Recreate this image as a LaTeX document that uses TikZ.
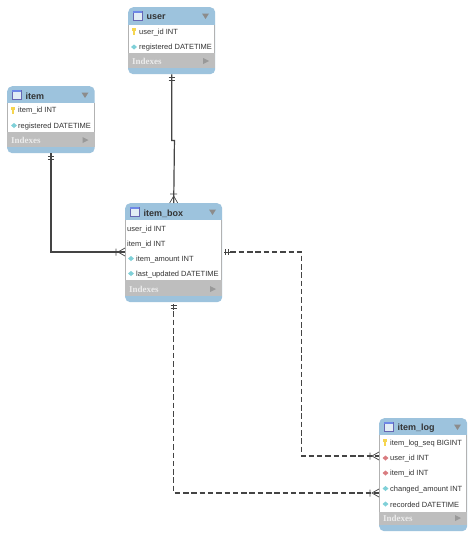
\documentclass[tikz,border=0pt]{standalone}
\usepackage{fontspec}
\setmainfont{Liberation Sans}
\newfontfamily\idxfont{Liberation Serif}
\usetikzlibrary{calc}
\definecolor{hdr}{HTML}{9DC3DD}
\definecolor{grayrow}{HTML}{BEBEBE}
\definecolor{frameblue}{HTML}{9DC3DD}
\definecolor{linec}{HTML}{444444}
\definecolor{keyy}{HTML}{F5D550}
\definecolor{dia}{HTML}{7FD0D8}
\definecolor{fk}{HTML}{D97C80}
\tikzset{
  x=1pt,y=-1pt,
  tbl/.style={draw=none,fill=frameblue,rounded corners=5pt,minimum width=#1,inner sep=0pt,anchor=north west},
  row/.style={anchor=west,inner sep=0pt,font=\fontsize{7.5}{9}\selectfont,text=black!80},
  title/.style={anchor=west,inner sep=0pt,font=\fontsize{9}{11}\selectfont\bfseries,text=black!80},
  idx/.style={anchor=west,inner sep=0pt,font=\fontsize{9}{11}\idxfont\bfseries,text=white!92!black},
  rel/.style={draw=linec,line width=1.2pt},
  reld/.style={rel,dash pattern=on 5.5pt off 2.8pt},
  mk/.style={draw=linec,line width=0.7pt},
}
\newcommand{\tbox}[8]{% name, x, y, w, h, hdr h, white h, title
  \node[tbl=#4,minimum height=#5] (#1) at (#2,#3) {};
  \fill[white] (#2,#3+#6) rectangle (#2+#4,#3+#6+#7);
  \fill[black!30] (#2,#3+#6) rectangle (#2+1,#3+#6+#7);
  \fill[black!30] (#2+#4-1,#3+#6) rectangle (#2+#4,#3+#6+#7);
  \fill[grayrow] (#2,#3+#6+#7) rectangle (#2+#4,#5+#3-6);
  \fill[white!70!hdr,draw=blue!50!black!60,line width=.6pt] (#2+5,#3+4) rectangle (#2+14,#3+13);
  \fill[hdr!70!blue] (#2+5,#3+4) rectangle (#2+14,#3+5.5);
  \node[title] (#1-t) at (#2+18.5,#3+10.5) {#8};
  \fill[black!45] (#2+#4-13,#3+6.5) -- (#2+#4-6,#3+6.5) -- (#2+#4-9.5,#3+12) -- cycle;
  \node[idx] (#1-i) at (#2+4,#5+#3-13) {Indexes};
  \fill[black!40] (#2+#4-12,#5+#3-16) -- (#2+#4-12,#5+#3-10) -- (#2+#4-6,#5+#3-13) -- cycle;
}
\newcommand{\keyic}[2]{\fill[keyy] (#1-1.7,#2-3.5) rectangle (#1+1.7,#2) ; \fill[keyy] (#1-.8,#2) rectangle (#1+.8,#2+3.5);}
\newcommand{\diaic}[3]{\fill[#3] (#1-3,#2) -- (#1,#2-2.5) -- (#1+3,#2) -- (#1,#2+2.5) -- cycle;}
\begin{document}
\begin{tikzpicture}
\useasboundingbox (0,0) rectangle (474,538);
\fill[white] (0,0) rectangle (474,538);
% tables
\tbox{user}{128}{7}{87}{67}{18}{28}{user}
\tbox{item}{7}{86}{87.5}{67}{17}{29}{item}
\tbox{itembox}{125}{203}{97}{99}{17}{60}{item\_box}
\tbox{itemlog}{379}{418}{88}{113}{17}{77}{item\_log}
% rows: user
\keyic{134}{31}
\node[row] (u1) at (139,32.5) {user\_id INT};
\diaic{134}{47}{dia}
\node[row] (u2) at (139,48) {registered DATETIME};
% item
\keyic{13}{110}
\node[row] (i1) at (18,111) {item\_id INT};
\diaic{14}{125.5}{dia}
\node[row] (i2) at (18,126.5) {registered DATETIME};
% item_box
\node[row] (b1) at (127,229.5) {user\_id INT};
\node[row] (b2) at (127,244.5) {item\_id INT};
\diaic{131}{258.5}{dia}
\node[row] (b3) at (136,260) {item\_amount INT};
\diaic{131}{273.5}{dia}
\node[row] (b4) at (136,275) {last\_updated DATETIME};
% item_log
\keyic{385}{442}
\node[row] (l1) at (390,443.5) {item\_log\_seq BIGINT};
\diaic{385.5}{458}{fk}
\node[row] (l2) at (390,458.5) {user\_id INT};
\diaic{385.5}{473}{fk}
\node[row] (l3) at (390,474) {item\_id INT};
\diaic{385.5}{488.5}{dia}
\node[row] (l4) at (390,489.5) {changed\_amount INT};
\diaic{385.5}{504}{dia}
\node[row] (l5) at (390,505) {recorded DATETIME};
% ports
\coordinate (pbl) at ($(itembox.north west)+(0,49)$);
\coordinate (pbr) at ($(itembox.north east)+(0,49)$);
\coordinate (pl1) at ($(itemlog.north west)+(0,38)$);
\coordinate (pl2) at ($(itemlog.north west)+(0,75)$);
% connectors
\draw[rel] (user.south) -- ++(0,66) -- ++(2.75,0) -- (itembox.north);
\draw[rel] (item.south) |- (pbl);
\draw[reld] ($(pbr)+(8,0)$) -- ++(71,0) |- (pl1);
\draw[reld] ($(itembox.south)+(0,9)$) |- (pl2);
% one-marks
\draw[mk] ($(user.south)+(-3,3)$) -- ++(6,0) ($(user.south)+(-3,6)$) -- ++(6,0);
\draw[mk] ($(item.south)+(-3,3)$) -- ++(6,0) ($(item.south)+(-3,6)$) -- ++(6,0);
\draw[mk] ($(itembox.south)+(-3,3)$) -- ++(6,0) ($(itembox.south)+(-3,6)$) -- ++(6,0) ($(itembox.south)+(0,2)$) -- ++(0,6);
\draw[mk] ($(pbr)+(3,-3)$) -- ++(0,6) ($(pbr)+(6,-3)$) -- ++(0,6) ($(pbr)+(2,0)$) -- ++(6,0);
% crow feet
\draw[mk] ($(itembox.north)+(-4,0)$) -- ++(4,-7) -- ++(4,7) ($(itembox.north)+(-3.5,-9)$) -- ++(7,0);
\draw[mk] ($(pbl)+(0,-4)$) -- ++(-7,4) -- ++(7,4) ($(pbl)+(-9,-3.5)$) -- ++(0,7);
\draw[mk] ($(pl1)+(0,-4)$) -- ++(-7,4) -- ++(7,4) ($(pl1)+(-9,-3.5)$) -- ++(0,7);
\draw[mk] ($(pl2)+(0,-4)$) -- ++(-7,4) -- ++(7,4) ($(pl2)+(-9,-3.5)$) -- ++(0,7);
\end{tikzpicture}
\end{document}
